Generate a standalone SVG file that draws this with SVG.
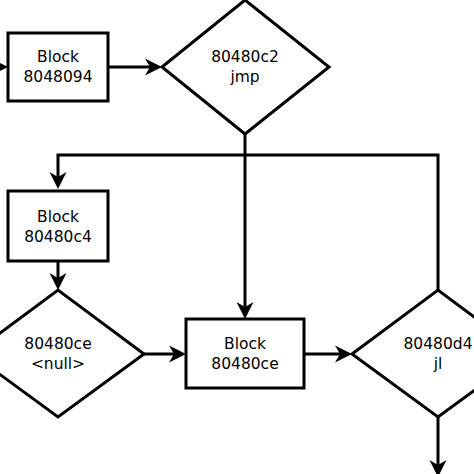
<svg xmlns="http://www.w3.org/2000/svg" width="474" height="474" viewBox="0 0 474 474">
<style>
.n{fill:#fff;stroke:#000;stroke-width:3}
.e{fill:none;stroke:#000;stroke-width:3;stroke-linejoin:miter;marker-end:url(#ah)}
.e2{fill:none;stroke:#000;stroke-width:3;stroke-linejoin:miter}
text{font-family:"DejaVu Sans",sans-serif;font-size:15.5px;text-anchor:middle;fill:#000}
</style>
<defs>
<marker id="ah" markerUnits="userSpaceOnUse" markerWidth="18" markerHeight="18" viewBox="0 -9 18 18" refX="5" refY="0" orient="auto">
<path d="M17,0 L0,-8.5 L5,0 L0,8.5 Z" fill="#000"/>
</marker>
</defs>
<rect width="474" height="474" fill="#fff"/>
<g id="connectors">
<path class="e" d="M-30,67 L-4,67"/>
<path class="e" d="M108,67 L150,67"/>
<path class="e" d="M245,134 L245,307"/>
<path class="e" d="M438,290 L438,155 L58,155 L58,177"/>
<path class="e" d="M58,261 L58,278"/>
<path class="e" d="M144,354 L174,354"/>
<path class="e" d="M304,354 L340,354"/>
<path class="e" d="M438,417 L438,465"/>
</g>
<g id="block_8048094">
<rect class="n" x="8" y="33" width="100" height="68"/>
<text x="58" y="62">Block</text>
<text x="58" y="82">8048094</text>
</g>
<g id="cond_80480c2">
<polygon class="n" points="162,67 245,0 329,67 245,134"/>
<text x="245" y="62">80480c2</text>
<text x="245" y="82">jmp</text>
</g>
<g id="block_80480c4">
<rect class="n" x="8" y="191" width="100" height="70"/>
<text x="58" y="221.5">Block</text>
<text x="58" y="241.5">80480c4</text>
</g>
<g id="cond_80480ce">
<polygon class="n" points="-28,354 58,290 144,354 58,417"/>
<text x="58" y="349">80480ce</text>
<text x="58" y="369">&lt;null&gt;</text>
</g>
<g id="block_80480ce">
<rect class="n" x="186" y="319" width="118" height="69"/>
<text x="245" y="349">Block</text>
<text x="245" y="369">80480ce</text>
</g>
<g id="cond_80480d4">
<polygon class="n" points="352,354 438,290 524,354 438,417"/>
<text x="438" y="349">80480d4</text>
<text x="438" y="369">jl</text>
</g>
</svg>
